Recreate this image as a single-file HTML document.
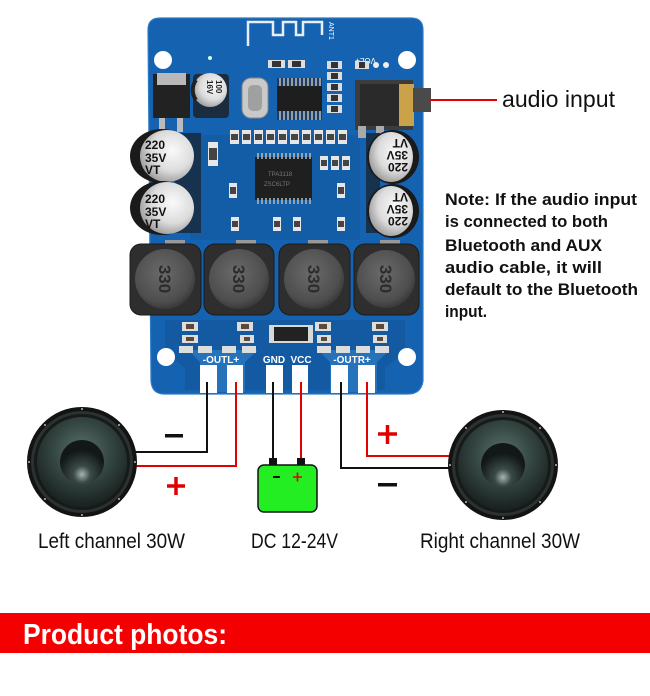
<!DOCTYPE html>
<html><head><meta charset="utf-8"><style>
html,body{margin:0;padding:0;background:#fff;}
svg{display:block;}
text{font-family:"Liberation Sans",sans-serif;}
</style></head><body>
<svg width="650" height="696" viewBox="0 0 650 696" xmlns="http://www.w3.org/2000/svg">
<defs>
<radialGradient id="cone" cx="50%" cy="38%" r="60%">
<stop offset="0" stop-color="#5a716c"/><stop offset="0.55" stop-color="#344541"/><stop offset="1" stop-color="#1a2321"/>
</radialGradient>
<radialGradient id="dome" cx="50%" cy="78%" r="55%">
<stop offset="0" stop-color="#a8b4b1"/><stop offset="0.35" stop-color="#3b4a47"/><stop offset="1" stop-color="#121817"/>
</radialGradient>
<radialGradient id="cap" cx="60%" cy="40%" r="65%">
<stop offset="0" stop-color="#fafafa"/><stop offset="0.6" stop-color="#dcdcdc"/><stop offset="1" stop-color="#9a9a9a"/>
</radialGradient>
<radialGradient id="ind" cx="45%" cy="40%" r="60%">
<stop offset="0" stop-color="#6a6a6a"/><stop offset="0.8" stop-color="#4e4e4e"/><stop offset="1" stop-color="#3a3a3a"/>
</radialGradient>
</defs>
<rect width="650" height="696" fill="#fff"/>

<!-- BOARD -->
<path d="M160,18 H411 Q423,18 423,30 V381 Q421,394 408,394 H164 Q152,394 151,381 L148,30 Q148,18 160,18Z" fill="#1562b0" stroke="#2f7cc4" stroke-width="1.2"/>
<path d="M190,135 H360 V240 H190Z" fill="#135aa3" opacity="0.7"/>
<path d="M165,320 H405 V352 L385,368 V390 H185 V368 L165,352Z" fill="#14559a" opacity="0.6"/>
<path d="M188,350 L200,362 V392 H245 V362 L258,350Z" fill="#2673bb"/>
<path d="M318,350 L330,362 V392 H377 V362 L390,350Z" fill="#2673bb"/>

<!-- antenna -->
<path d="M248,46 V22 H273 V35 H283 V22 H296 V35 H303 V22 H322 V35" fill="none" stroke="#e8eef5" stroke-width="2.5"/>
<text x="329" y="22" font-size="7" fill="#fff" transform="rotate(90 329 22)">ANT1</text>
<circle cx="163" cy="60" r="9" fill="#fff"/>
<circle cx="407" cy="60" r="9" fill="#fff"/>
<circle cx="166" cy="357" r="9" fill="#fff"/>
<circle cx="407" cy="357" r="9" fill="#fff"/>
<circle cx="210" cy="58" r="2" fill="#cfe"/>
<text x="388" y="52" font-size="8" fill="#fff" transform="rotate(180 382 55)">VOL+</text>
<circle cx="376" cy="65" r="3" fill="#eee"/><circle cx="386" cy="65" r="3" fill="#eee"/>
<rect x="355" y="61" width="14" height="8" fill="#ddd"/><rect x="359" y="62" width="6" height="6" fill="#333"/>
<rect x="268" y="60" width="17" height="8" fill="#ddd"/><rect x="272" y="61" width="9" height="6" fill="#333"/>
<rect x="288" y="60" width="17" height="8" fill="#ddd"/><rect x="292" y="61" width="9" height="6" fill="#333"/>
<g fill="#ddd">
<rect x="327" y="61" width="15" height="8"/><rect x="327" y="72" width="15" height="8"/><rect x="327" y="83" width="15" height="8"/><rect x="327" y="94" width="15" height="8"/><rect x="327" y="105" width="15" height="8"/>
</g>
<g fill="#333">
<rect x="331" y="62" width="7" height="6"/><rect x="331" y="73" width="7" height="6"/><rect x="331" y="84" width="7" height="6"/><rect x="331" y="95" width="7" height="6"/><rect x="331" y="106" width="7" height="6"/>
</g>

<!-- regulator -->
<rect x="153" y="74" width="37" height="44" fill="#222"/>
<rect x="157" y="73" width="29" height="12" fill="#b9b9b9"/>
<rect x="159" y="118" width="6" height="14" fill="#bbb"/><rect x="177" y="118" width="6" height="14" fill="#bbb"/>
<rect x="193" y="74" width="36" height="44" rx="4" fill="#1b2c40"/>
<circle cx="210" cy="90" r="17" fill="url(#cap)"/>
<path d="M196,80 A17,17 0 0 0 196,100" fill="none" stroke="#222" stroke-width="4"/>
<text x="202" y="86" font-size="8" font-weight="bold" fill="#222" transform="rotate(90 212 90)">100</text>
<text x="202" y="95" font-size="8" font-weight="bold" fill="#222" transform="rotate(90 212 90)">16V</text>
<rect x="242" y="78" width="26" height="40" rx="9" fill="#c9c9c9" stroke="#888"/>
<rect x="248" y="85" width="14" height="26" rx="5" fill="#a0a0a0"/>
<rect x="277" y="78" width="45" height="42" fill="#1d3c66"/>
<g stroke="#bbb" stroke-width="1.5">
<path d="M280,78 v8 M284,78 v8 M288,78 v8 M292,78 v8 M296,78 v8 M300,78 v8 M304,78 v8 M308,78 v8 M312,78 v8 M316,78 v8 M320,78 v8"/>
<path d="M280,111 v9 M284,111 v9 M288,111 v9 M292,111 v9 M296,111 v9 M300,111 v9 M304,111 v9 M308,111 v9 M312,111 v9 M316,111 v9 M320,111 v9"/>
</g>
<rect x="277" y="86" width="45" height="25" fill="#1e1e1e"/>
<rect x="355" y="80" width="58" height="50" fill="#3c3c3c"/>
<rect x="360" y="84" width="40" height="42" fill="#2a2a2a"/>
<rect x="399" y="84" width="15" height="42" fill="#c9a24a"/>
<rect x="413" y="88" width="18" height="24" fill="#4a4a4a"/>
<rect x="358" y="126" width="8" height="12" fill="#aaa"/><rect x="376" y="126" width="8" height="12" fill="#aaa"/>
<line x1="430" y1="100" x2="497" y2="100" stroke="#e00000" stroke-width="2"/>

<g fill="#e6e6e6">
<rect x="230" y="130" width="9" height="14"/><rect x="242" y="130" width="9" height="14"/><rect x="254" y="130" width="9" height="14"/><rect x="266" y="130" width="9" height="14"/><rect x="278" y="130" width="9" height="14"/><rect x="290" y="130" width="9" height="14"/><rect x="302" y="130" width="9" height="14"/><rect x="314" y="130" width="9" height="14"/><rect x="326" y="130" width="9" height="14"/><rect x="338" y="130" width="9" height="14"/>
<rect x="208" y="142" width="10" height="24"/>
<rect x="320" y="156" width="8" height="14"/><rect x="331" y="156" width="8" height="14"/><rect x="342" y="156" width="8" height="14"/>
<rect x="229" y="183" width="8" height="15"/><rect x="337" y="183" width="8" height="15"/>
<rect x="231" y="217" width="8" height="14"/><rect x="273" y="217" width="8" height="14"/><rect x="293" y="217" width="8" height="14"/><rect x="337" y="217" width="8" height="14"/>
</g>
<g fill="#444">
<rect x="231" y="134" width="7" height="6"/><rect x="243" y="134" width="7" height="6"/><rect x="255" y="134" width="7" height="6"/><rect x="267" y="134" width="7" height="6"/><rect x="279" y="134" width="7" height="6"/><rect x="291" y="134" width="7" height="6"/><rect x="303" y="134" width="7" height="6"/><rect x="315" y="134" width="7" height="6"/><rect x="327" y="134" width="7" height="6"/><rect x="339" y="134" width="7" height="6"/>
<rect x="209" y="148" width="8" height="12"/>
<rect x="321" y="160" width="6" height="6"/><rect x="332" y="160" width="6" height="6"/><rect x="343" y="160" width="6" height="6"/>
<rect x="230" y="187" width="6" height="7"/><rect x="338" y="187" width="6" height="7"/>
<rect x="232" y="221" width="6" height="6"/><rect x="274" y="221" width="6" height="6"/><rect x="294" y="221" width="6" height="6"/><rect x="338" y="221" width="6" height="6"/>
</g>
<rect x="255" y="157" width="57" height="43" fill="#1f1f1f"/>
<g stroke="#bbb" stroke-width="1.5">
<path d="M258,153 v6 M262,153 v6 M266,153 v6 M270,153 v6 M274,153 v6 M278,153 v6 M282,153 v6 M286,153 v6 M290,153 v6 M294,153 v6 M298,153 v6 M302,153 v6 M306,153 v6 M310,153 v6"/>
<path d="M258,198 v6 M262,198 v6 M266,198 v6 M270,198 v6 M274,198 v6 M278,198 v6 M282,198 v6 M286,198 v6 M290,198 v6 M294,198 v6 M298,198 v6 M302,198 v6 M306,198 v6 M310,198 v6"/>
</g>
<text x="268" y="176" font-size="6" fill="#777">TPA3118</text>
<text x="264" y="186" font-size="6" fill="#777">ZSC6LTP</text>

<rect x="175" y="133" width="26" height="100" fill="#16324f"/>
<ellipse cx="162" cy="156" rx="32" ry="27" fill="#1a1a1a"/>
<ellipse cx="167" cy="156" rx="27" ry="26" fill="url(#cap)"/>
<text x="145" y="149" font-size="12" font-weight="bold" fill="#111">220</text>
<text x="145" y="162" font-size="12" font-weight="bold" fill="#111">35V</text>
<text x="145" y="174" font-size="12" font-weight="bold" fill="#111">VT</text>
<ellipse cx="162" cy="208" rx="32" ry="27" fill="#1a1a1a"/>
<ellipse cx="167" cy="208" rx="27" ry="26" fill="url(#cap)"/>
<text x="145" y="203" font-size="12" font-weight="bold" fill="#111">220</text>
<text x="145" y="216" font-size="12" font-weight="bold" fill="#111">35V</text>
<text x="145" y="228" font-size="12" font-weight="bold" fill="#111">VT</text>
<rect x="366" y="133" width="14" height="100" fill="#16324f"/>
<ellipse cx="393" cy="157" rx="26" ry="27" fill="#1a1a1a"/>
<ellipse cx="391" cy="157" rx="22" ry="25" fill="url(#cap)"/>
<g transform="rotate(180 393 157)"><text x="378" y="151" font-size="12" font-weight="bold" fill="#111">220</text><text x="378" y="163" font-size="12" font-weight="bold" fill="#111">35V</text><text x="378" y="175" font-size="12" font-weight="bold" fill="#111">VT</text></g>
<ellipse cx="393" cy="211" rx="26" ry="27" fill="#1a1a1a"/>
<ellipse cx="391" cy="211" rx="22" ry="25" fill="url(#cap)"/>
<g transform="rotate(180 393 211)"><text x="378" y="205" font-size="12" font-weight="bold" fill="#111">220</text><text x="378" y="217" font-size="12" font-weight="bold" fill="#111">35V</text><text x="378" y="229" font-size="12" font-weight="bold" fill="#111">VT</text></g>

<g>
<rect x="165" y="240" width="20" height="6" fill="#999"/><rect x="236" y="240" width="20" height="6" fill="#999"/><rect x="308" y="240" width="20" height="6" fill="#999"/><rect x="380" y="240" width="20" height="6" fill="#999"/>
<rect x="130" y="244" width="71" height="71" rx="11" fill="#2e2e2e" stroke="#1b1b1b"/>
<circle cx="165" cy="279" r="30" fill="url(#ind)"/>
<rect x="204" y="244" width="70" height="71" rx="11" fill="#2e2e2e" stroke="#1b1b1b"/>
<circle cx="239" cy="279" r="30" fill="url(#ind)"/>
<rect x="279" y="244" width="71" height="71" rx="11" fill="#2e2e2e" stroke="#1b1b1b"/>
<circle cx="314" cy="279" r="30" fill="url(#ind)"/>
<rect x="354" y="244" width="65" height="71" rx="11" fill="#2e2e2e" stroke="#1b1b1b"/>
<circle cx="386" cy="279" r="29" fill="url(#ind)"/>
<g font-size="17" font-weight="bold" fill="#2c2c2c" text-anchor="middle">
<text x="165" y="285" transform="rotate(90 165 279)">330</text>
<text x="239" y="285" transform="rotate(90 239 279)">330</text>
<text x="314" y="285" transform="rotate(90 314 279)">330</text>
<text x="386" y="285" transform="rotate(90 386 279)">330</text>
</g>
</g>

<g fill="#ddd">
<rect x="182" y="322" width="16" height="9"/><rect x="182" y="335" width="16" height="8"/><rect x="179" y="346" width="14" height="7"/><rect x="198" y="346" width="14" height="7"/>
<rect x="237" y="322" width="16" height="9"/><rect x="240" y="335" width="14" height="8"/><rect x="222" y="346" width="14" height="7"/><rect x="242" y="346" width="14" height="7"/>
<rect x="315" y="322" width="16" height="9"/><rect x="317" y="335" width="14" height="8"/><rect x="317" y="346" width="14" height="7"/><rect x="336" y="346" width="14" height="7"/>
<rect x="372" y="322" width="16" height="9"/><rect x="373" y="335" width="14" height="8"/><rect x="356" y="346" width="14" height="7"/><rect x="375" y="346" width="14" height="7"/>
</g>
<g fill="#5a4a3a">
<rect x="186" y="324" width="8" height="5"/><rect x="241" y="324" width="8" height="5"/><rect x="319" y="324" width="8" height="5"/><rect x="376" y="324" width="8" height="5"/>
<rect x="186" y="337" width="8" height="4"/><rect x="244" y="337" width="6" height="4"/><rect x="321" y="337" width="6" height="4"/><rect x="377" y="337" width="6" height="4"/>
</g>
<rect x="269" y="325" width="44" height="18" fill="#d8d8d8"/>
<rect x="274" y="327" width="34" height="14" fill="#222"/>
<g font-size="10" font-weight="bold" fill="#fff" text-anchor="middle">
<text x="221" y="363">-OUTL+</text>
<text x="274" y="363">GND</text>
<text x="301" y="363">VCC</text>
<text x="352" y="363">-OUTR+</text>
</g>
<g fill="#fff">
<rect x="200" y="365" width="17" height="28"/><rect x="227" y="365" width="16" height="28"/>
<rect x="266" y="365" width="17" height="28"/><rect x="292" y="365" width="16" height="28"/>
<rect x="331" y="365" width="17" height="28"/><rect x="358" y="365" width="17" height="28"/>
</g>

<g fill="none" stroke-width="2">
<path d="M207,382 V452 H136" stroke="#111"/>
<path d="M236,382 V466 H136" stroke="#e00000"/>
<path d="M273,382 V460" stroke="#111"/>
<path d="M301,382 V460" stroke="#e00000"/>
<path d="M341,382 V468 H451" stroke="#111"/>
<path d="M367,382 V456 H451" stroke="#e00000"/>
</g>

<rect x="269" y="458" width="8" height="9" fill="#111"/>
<rect x="297" y="458" width="8" height="9" fill="#111"/>
<rect x="258" y="465" width="59" height="47" rx="6" fill="#22ee22" stroke="#111" stroke-width="1.5"/>
<rect x="273" y="476" width="7" height="2" fill="#111"/>
<path d="M293,477 h9 M297.5,472.5 v9" stroke="#e00000" stroke-width="1.6"/>

<rect x="165" y="434" width="18" height="3.5" fill="#111"/>
<path d="M167,486 h18 M176,477 v18" stroke="#e00000" stroke-width="3.5"/>
<path d="M378,434 h19 M387.5,425 v19" stroke="#e00000" stroke-width="3.5"/>
<rect x="378" y="483" width="19" height="3.5" fill="#111"/>

<g transform="translate(82,462)">
<circle r="55" fill="#131313"/>
<circle r="51" fill="#2b3230"/>
<circle r="48" fill="#161b1a"/>
<circle r="45" fill="url(#cone)"/>
<circle r="22" fill="url(#dome)"/>
<g fill="#bbb"><circle cx="0" cy="-53" r="1"/><circle cx="0" cy="53" r="1"/><circle cx="-53" cy="0" r="1"/><circle cx="53" cy="0" r="1"/><circle cx="37" cy="-37" r="1"/><circle cx="-37" cy="37" r="1"/><circle cx="-37" cy="-37" r="1"/><circle cx="37" cy="37" r="1"/></g>
</g>
<g transform="translate(503,465)">
<circle r="55" fill="#131313"/>
<circle r="51" fill="#2b3230"/>
<circle r="48" fill="#161b1a"/>
<circle r="45" fill="url(#cone)"/>
<circle r="22" fill="url(#dome)"/>
<g fill="#bbb"><circle cx="0" cy="-53" r="1"/><circle cx="0" cy="53" r="1"/><circle cx="-53" cy="0" r="1"/><circle cx="53" cy="0" r="1"/><circle cx="37" cy="-37" r="1"/><circle cx="-37" cy="37" r="1"/><circle cx="-37" cy="-37" r="1"/><circle cx="37" cy="37" r="1"/></g>
</g>

<text x="502" y="107" font-size="23" fill="#111" textLength="113" lengthAdjust="spacingAndGlyphs">audio input</text>
<g font-size="17" font-weight="bold" fill="#111">
<text x="445" y="205" textLength="192" lengthAdjust="spacingAndGlyphs">Note: If the audio input</text>
<text x="445" y="227" textLength="163" lengthAdjust="spacingAndGlyphs">is connected to both</text>
<text x="445" y="251" textLength="157" lengthAdjust="spacingAndGlyphs">Bluetooth and AUX</text>
<text x="445" y="273" textLength="157" lengthAdjust="spacingAndGlyphs">audio cable, it will</text>
<text x="445" y="295" textLength="193" lengthAdjust="spacingAndGlyphs">default to the Bluetooth</text>
<text x="445" y="317" textLength="42" lengthAdjust="spacingAndGlyphs">input.</text>
</g>
<g font-size="21" fill="#111">
<text x="38" y="548" textLength="147" lengthAdjust="spacingAndGlyphs">Left channel 30W</text>
<text x="251" y="548" textLength="87" lengthAdjust="spacingAndGlyphs">DC 12-24V</text>
<text x="420" y="548" textLength="160" lengthAdjust="spacingAndGlyphs">Right channel 30W</text>
</g>

<rect x="0" y="613" width="650" height="40" fill="#f50000"/>
<text x="23" y="644" font-size="29" font-weight="bold" fill="#fff" textLength="204" lengthAdjust="spacingAndGlyphs">Product photos:</text>
</svg>
</body></html>
